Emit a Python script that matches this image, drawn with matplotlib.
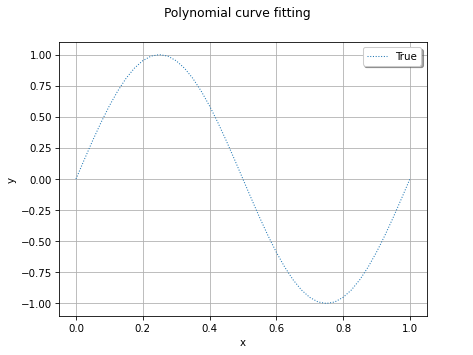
import matplotlib
matplotlib.use("Agg")
import matplotlib.pyplot as plt

x_values = [0.0, 0.025, 0.05, 0.075, 0.1, 0.125, 0.15, 0.175, 0.2, 0.225, 0.25,
            0.275, 0.3, 0.325, 0.35, 0.375, 0.4, 0.425, 0.45, 0.475, 0.5,
            0.525, 0.55, 0.575, 0.6, 0.625, 0.65, 0.675, 0.7, 0.725, 0.75,
            0.775, 0.8, 0.825, 0.85, 0.875, 0.9, 0.925, 0.95, 0.975, 1.0]
y_true = [0.0, 0.156, 0.309, 0.454, 0.588, 0.707, 0.809, 0.891, 0.951, 0.988, 1.0,
          0.988, 0.951, 0.891, 0.809, 0.707, 0.588, 0.454, 0.309, 0.156, 0.0,
          -0.156, -0.309, -0.454, -0.588, -0.707, -0.809, -0.891, -0.951, -0.988, -1.0,
          -0.988, -0.951, -0.891, -0.809, -0.707, -0.588, -0.454, -0.309, -0.156, 0.0]
series_label = "True"
title = "Polynomial curve fitting"

fig, ax = plt.subplots(figsize=(6.4, 4.8), dpi=74.06)
ax.plot(x_values, y_true, linestyle=":", color="#1f77b4", linewidth=1.0, label=series_label)
ax.set_xlabel("x")
ax.set_ylabel("y")
ax.grid(True)
ax.legend(loc="upper right", shadow=True)
fig.suptitle(title)
fig.savefig("out.png", dpi=74.06)
